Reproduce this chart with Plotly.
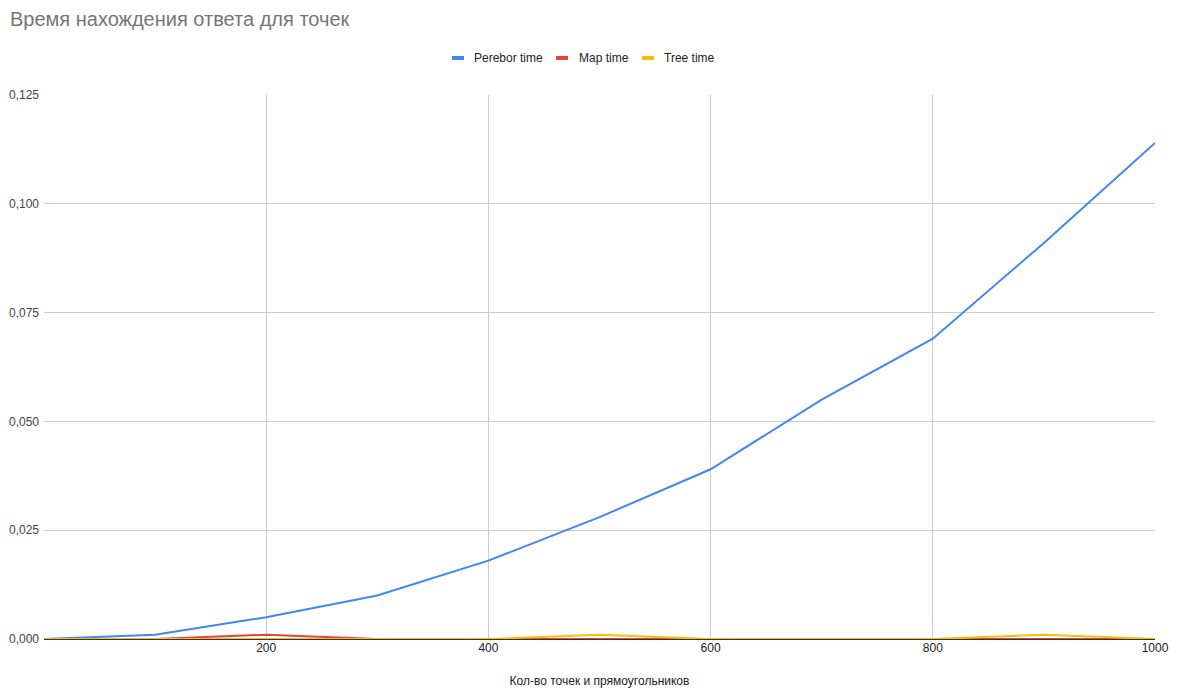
import plotly.graph_objects as go

x_vals = [0, 100, 200, 300, 400, 500, 600, 700, 800, 900, 1000]
perebor_time = [0.0, 0.001, 0.005, 0.010, 0.018, 0.028, 0.039, 0.055, 0.069, 0.091, 0.114]
map_time = [0.0, 0.0, 0.001, 0.0, 0.0, 0.0, 0.0, 0.0, 0.0, 0.0, 0.0]
tree_time = [0.0, 0.0, 0.0, 0.0, 0.0, 0.001, 0.0, 0.0, 0.0, 0.001, 0.0]

series_names = ["Perebor time", "Map time", "Tree time"]
series_colors = ["#4285F4", "#EA4335", "#FBBC04"]

x_ticks = [200, 400, 600, 800, 1000]
y_ticks = [0, 0.025, 0.05, 0.075, 0.1, 0.125]

FONT = "Liberation Sans, Arial, sans-serif"
W, H = 1169, 690  # page body has an 8px margin
OFF = 8
ML, MR, MT, MB = 36, 22, 87, 59
PW, PH = W - ML - MR, H - MT - MB

def px_to_paper_x(px):
    return (px - OFF - ML) / PW

def py_to_paper_y(py):
    return (H - MB - (py - OFF)) / PH

fig = go.Figure()
for name, ys, col in zip(series_names, [perebor_time, map_time, tree_time], series_colors):
    fig.add_trace(go.Scatter(x=x_vals, y=ys, mode="lines", name=name, showlegend=False,
                             line=dict(color=col, width=2)))

# legend drawn as short thick bars + labels (Google Charts style)
legend_bar_x = [452, 556, 642]
legend_text_x = [472, 577, 662]
for name, col, bx, tx in zip(series_names, series_colors, legend_bar_x, legend_text_x):
    fig.add_shape(type="rect", xref="paper", yref="paper",
                  x0=px_to_paper_x(bx), x1=px_to_paper_x(bx + 12),
                  y0=py_to_paper_y(60), y1=py_to_paper_y(56),
                  fillcolor=col, line=dict(width=0), layer="above")
    fig.add_annotation(text=name, xref="paper", yref="paper",
                       x=px_to_paper_x(tx), y=py_to_paper_y(57.5),
                       xanchor="left", yanchor="middle", showarrow=False,
                       font=dict(family=FONT, size=12, color="#222222"))

fig.update_layout(
    width=W, height=H,
    margin=dict(l=ML, r=MR, t=MT, b=MB),
    paper_bgcolor="white", plot_bgcolor="white",
    separators=", ",
    font=dict(family=FONT, size=12, color="#222222"),
    title=dict(text="Время нахождения ответа для точек", xref="container", yref="container",
               x=2/W, y=1-11/H, xanchor="left", yanchor="middle",
               font=dict(family=FONT, size=20, color="#757575")),
    showlegend=False,
)
fig.update_xaxes(range=[0, 1000], tickvals=x_ticks, showgrid=True, gridcolor="#cccccc",
                 gridwidth=1, zeroline=False, showline=False, ticks="", automargin=False,
                 tickfont=dict(family=FONT, size=12, color="#222222"),
                 title=dict(text="Кол-во точек и прямоугольников", standoff=22,
                            font=dict(family=FONT, size=12, color="#222222")))
fig.update_yaxes(range=[0, 0.125], tickvals=y_ticks, tickformat=".3f", showgrid=True,
                 gridcolor="#cccccc", gridwidth=1, zeroline=True, zerolinecolor="#333333",
                 zerolinewidth=1, showline=False, ticks="", automargin=False,
                 ticklabelstandoff=4,
                 tickfont=dict(family=FONT, size=12, color="#444444"))

fig.write_html("out.html")
